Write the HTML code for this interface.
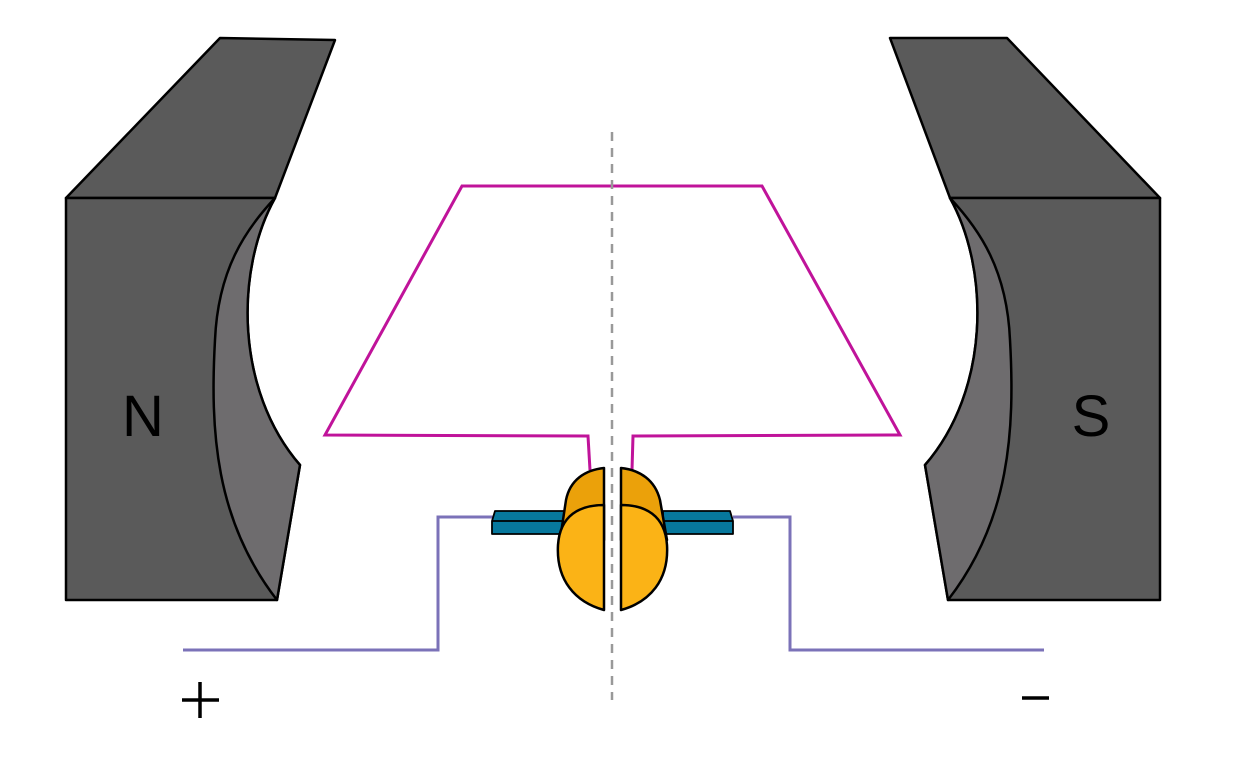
<!DOCTYPE html>
<html><head><meta charset="utf-8"><style>html,body{margin:0;padding:0;background:#fff}svg{display:block}</style></head>
<body>
<svg width="1251" height="757" viewBox="0 0 1251 757" xmlns="http://www.w3.org/2000/svg">
<g stroke="#000" stroke-width="2.5" stroke-linejoin="round">
<polygon points="66,198 220,38 335,40 275,198" fill="#5a5a5a"/>
<path d="M66,198 L275,198 C235,270 235,390 300,465 L277,600 L66,600 Z" fill="#5a5a5a"/>
<path d="M275,198 C235,270 235,390 300,465 L277,600 C215,520 210,430 215,340 C218,270 245,230 275,198 Z" fill="#6e6c6e"/>
<polygon points="890,38 1007,38 1160,198 950,198" fill="#5a5a5a"/>
<path d="M1160,198 L950,198 C990,270 990,390 925,465 L948,600 L1160,600 Z" fill="#5a5a5a"/>
<path d="M950,198 C990,270 990,390 925,465 L948,600 C1010,520 1015,430 1010,340 C1007,270 980,230 950,198 Z" fill="#6e6c6e"/>
</g>
<text x="143" y="436" font-family="Liberation Sans, sans-serif" font-size="58" text-anchor="middle">N</text>
<text x="1091" y="436" font-family="Liberation Sans, sans-serif" font-size="58" text-anchor="middle">S</text>
<polyline points="590,470 588,436 325,435 462,186 762,186 900,435 633,436 632,470" fill="none" stroke="#c0139a" stroke-width="3"/>
<polyline points="183,650 438,650 438,517 495,517" fill="none" stroke="#7b72b8" stroke-width="3"/>
<polyline points="733,517 790,517 790,650 1044,650" fill="none" stroke="#7b72b8" stroke-width="3"/>
<g stroke="#000" stroke-width="1.8" stroke-linejoin="round">
<polygon points="495,511 565,511 565,534 492,534 492,521" fill="#07789d"/>
<line x1="492" y1="521" x2="565" y2="521"/>
<polygon points="663,511 730,511 733,521 733,534 663,534" fill="#07789d"/>
<line x1="663" y1="521" x2="733" y2="521"/>
</g>
<g stroke="#000" stroke-width="2.5" stroke-linejoin="round">
<path d="M604,468 C585,470 570,480 566,500 L560,540 L604,540 Z" fill="#eba10a"/>
<path d="M604,505 C580,505 560,515 558,545 C556,580 575,602 604,610 Z" fill="#fbb316"/>
<path d="M621,468 C640,470 655,480 660,500 L667,540 L621,540 Z" fill="#eba10a"/>
<path d="M621,505 C645,505 665,515 667,545 C669,580 650,602 621,610 Z" fill="#fbb316"/>
</g>
<line x1="612" y1="132" x2="612" y2="700" stroke="#999" stroke-width="2.5" stroke-dasharray="9,7"/>
<line x1="182" y1="700" x2="219" y2="700" stroke="#000" stroke-width="3.5"/>
<line x1="200" y1="682" x2="200" y2="718" stroke="#000" stroke-width="3.5"/>
<line x1="1022" y1="698" x2="1049" y2="698" stroke="#000" stroke-width="3.5"/>
</svg>
</body></html>
